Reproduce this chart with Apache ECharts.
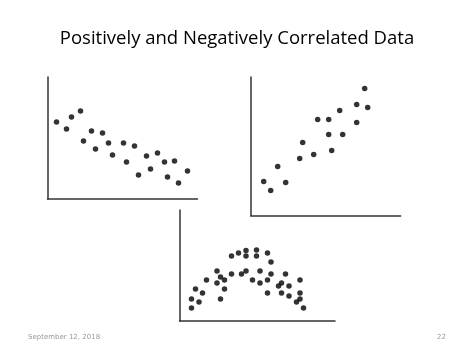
<!DOCTYPE html>
<html>
<head>
<meta charset="utf-8">
<script src="https://cdn.jsdelivr.net/npm/echarts@6/dist/echarts.min.js"></script>
<style>html,body{margin:0;padding:0;background:#fff}#c{width:474px;height:355px}</style>
</head>
<body>
<div id="c"></div>
<script>
// Values, in each panel's own axis units (x from left axis, y from bottom axis)
const negativeData = [
  [9,77],[19,70],[24,82],[33,88],[44,68],[55,66],[36,58],[48,50],[61,56],[76,56],[87,53],
  [65,44],[79,37],[99,43],[110,46],[91,24],[103,30],[117,37],[127,38],[120,22],[140,28],[131,16]
];
const positiveData = [
  [13,34],[20,25],[27,49],[35,33],[49,57],[52,73],[63,61],[67,96],[78,96],[78,81],[81,65],
  [89,105],[92,81],[106,111],[106,93],[114,127],[117,108]
];
const curvedData = [
  [52,65],[59,68],[66.5,70.5],[66.5,65],[77,71],[77,65],[88,68],[91.5,59],
  [37.5,50],[52,47],[62,47],[66.5,50],[80.5,50],[91.5,47],[106,47],
  [41,44],[45,41],[27,41],[37.5,38],[73,41],[80.5,38],[88,41],
  [102,38],[99,35],[109.5,35],[120.5,41],
  [16,32],[23,28],[45,32],[88,28],[102,28],[109.5,25],[120.5,28],
  [12,22],[19.5,19],[41,22],[120.5,22],[117,19],[12,13],[124,13]
];
const titleText = 'Positively and Negatively Correlated Data';
const footerDate = 'September 12, 2018';
const footerPage = '22';

const panels = [
  {left:47.5, top:77, width:150, height:122, data:negativeData},
  {left:250.7, top:77, width:150, height:138.5, data:positiveData},
  {left:179.5, top:210, width:155.5, height:111, data:curvedData}
];
const axisLine = {show:true, onZero:false, lineStyle:{color:'#333', width:1.5}};
const option = {
  animation:false,
  backgroundColor:'#fff',
  title:[
    {text:titleText, left:'center', top:29, padding:0, textStyle:{fontFamily:'Open Sans', fontSize:18.5, fontWeight:'normal', color:'#000'}},
    {text:footerDate, left:28, top:334, padding:0, textStyle:{fontFamily:'DejaVu Sans', fontSize:7, fontWeight:'normal', color:'#999'}},
    {text:footerPage, left:437, top:334, padding:0, textStyle:{fontFamily:'DejaVu Sans', fontSize:7, fontWeight:'normal', color:'#999'}}
  ],
  grid: panels.map(p => ({left:p.left, top:p.top, width:p.width, height:p.height})),
  xAxis: panels.map((p,i) => ({type:'value', gridIndex:i, min:0, max:p.width, axisLine, axisTick:{show:false}, axisLabel:{show:false}, splitLine:{show:false}})),
  yAxis: panels.map((p,i) => ({type:'value', gridIndex:i, min:0, max:p.height, axisLine, axisTick:{show:false}, axisLabel:{show:false}, splitLine:{show:false}})),
  series: panels.map((p,i) => ({type:'scatter', xAxisIndex:i, yAxisIndex:i, data:p.data, symbolSize:5.5, itemStyle:{color:'#000'}}))
};
echarts.init(document.getElementById('c'), null, {renderer:'canvas'}).setOption(option);
</script>
</body>
</html>
